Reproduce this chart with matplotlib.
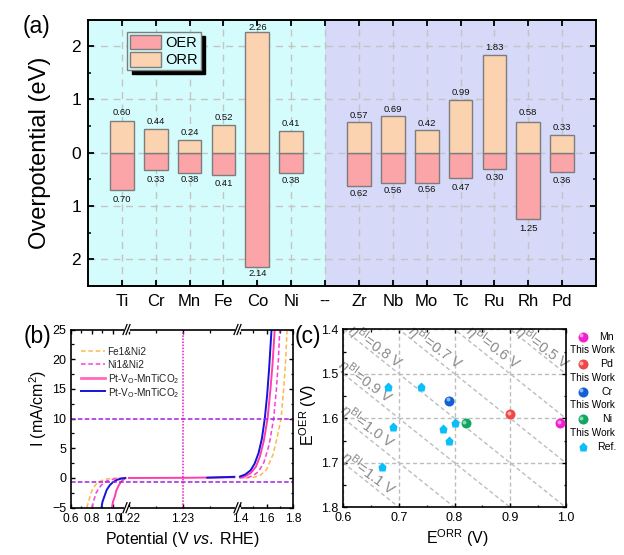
import numpy as np
import matplotlib
matplotlib.use('Agg')
import matplotlib.pyplot as plt
from matplotlib.ticker import FixedLocator, MultipleLocator, FuncFormatter
from matplotlib.transforms import offset_copy
from matplotlib.patches import Patch

plt.rcParams['font.family'] = ['Liberation Sans', 'DejaVu Sans']
plt.rcParams['mathtext.fontset'] = 'custom'
plt.rcParams['mathtext.rm'] = 'Liberation Sans'
plt.rcParams['mathtext.it'] = 'Liberation Sans:italic'
plt.rcParams['mathtext.bf'] = 'Liberation Sans:bold'

# ---- data ----
metals = ['Ti', 'Cr', 'Mn', 'Fe', 'Co', 'Ni', '--', 'Zr', 'Nb', 'Mo', 'Tc', 'Ru', 'Rh', 'Pd']
orr_eta = [0.60, 0.44, 0.24, 0.52, 2.26, 0.41, None, 0.57, 0.69, 0.42, 0.99, 1.83, 0.58, 0.33]
oer_eta = [0.70, 0.33, 0.38, 0.41, 2.14, 0.38, None, 0.62, 0.56, 0.56, 0.47, 0.30, 1.25, 0.36]

fe_orr_v = [0.75, 0.77, 0.79, 0.81, 0.84, 0.88, 0.93, 1.00, 1.10]
fe_orr_i = [-5, -3.8, -2.6, -1.7, -1.0, -0.5, -0.2, -0.05, 0]
ni_orr_v = [0.80, 0.82, 0.84, 0.87, 0.90, 0.94, 1.00, 1.05, 1.12]
ni_orr_i = [-5, -3.6, -2.5, -1.6, -1.0, -0.5, -0.2, -0.05, 0]
pk_orr_v = [0.99, 1.00, 1.02, 1.03, 1.05, 1.07, 1.09, 1.11, 1.12]
pk_orr_i = [-5, -4, -3, -2.2, -1.4, -0.8, -0.4, -0.15, 0]
bl_orr_v = [0.89, 0.90, 0.92, 0.94, 0.97, 1.00, 1.04, 1.08, 1.115]
bl_orr_i = [-5, -4, -3, -2, -1.2, -0.7, -0.3, -0.1, 0]

pk_mid_v = [1.22, 1.23, 1.2395]
pk_mid_i = [0, 0.03, 0.12]
bl_mid_v = [1.2345, 1.2395]
bl_mid_i = [0.05, 0.2]

bl_oer_v = [1.40, 1.44, 1.48, 1.51, 1.54, 1.565, 1.587, 1.605, 1.62, 1.638]
bl_oer_i = [0.25, 0.6, 1.3, 2.4, 4.2, 6.6, 10, 14, 18.5, 25]
pk_oer_v = [1.40, 1.44, 1.48, 1.52, 1.55, 1.58, 1.608, 1.63, 1.645, 1.662]
pk_oer_i = [0.1, 0.3, 0.8, 1.9, 3.6, 6.3, 10, 15, 19, 25]
ni_oer_v = [1.40, 1.46, 1.50, 1.54, 1.58, 1.62, 1.654, 1.675, 1.69, 1.70]
ni_oer_i = [0.02, 0.1, 0.4, 1.1, 2.6, 5.6, 10, 15, 20, 25]
fe_oer_v = [1.44, 1.50, 1.55, 1.60, 1.65, 1.68, 1.71, 1.73, 1.745, 1.755]
fe_oer_i = [0, 0.1, 0.4, 1.4, 4.0, 6.8, 10, 15, 20, 25]

x_major = [0.6, 0.8, 1.0, 1.22, 1.23, 1.4, 1.6, 1.8]
x_major_labels = ['0.6', '0.8', '1.0', '1.22', '1.23', '1.4', '1.6', '1.8']
x_minor = [0.7, 0.9, 1.225, 1.235, 1.5, 1.7]

this_work = {'Mn': (0.99, 1.61, '#F020D0'), 'Pd': (0.90, 1.59, '#F04848'),
             'Cr': (0.79, 1.56, '#1060D8'), 'Ni': (0.82, 1.61, '#10A860')}
ref_orr = [0.68, 0.74, 0.69, 0.78, 0.80, 0.79, 0.67]
ref_oer = [1.53, 1.53, 1.62, 1.625, 1.61, 1.65, 1.71]
eta_lines = [0.5, 0.6, 0.7, 0.8, 0.9, 1.0, 1.1]
eta_label_xy = {0.5: (0.957, 1.442), 0.6: (0.869, 1.442), 0.7: (0.765, 1.442),
                0.8: (0.657, 1.44), 0.9: (0.639, 1.518), 1.0: (0.642, 1.619),
                1.1: (0.645, 1.725)}

# label gaps (px) of panel (a)
up_gap = [8, 7.3, 7, 7.3, 5, 7, 6.5, 6.5, 6.5, 7.7, 7.3, 9, 7.3]
dn_gap = [9, 9.3, 6.7, 8.7, 6.3, 7.7, 8, 7.7, 7, 9.3, 8.3, 9, 8.3]

# ---- layout ----
W, H = 624, 555
fig = plt.figure(figsize=(W / 100, H / 100), dpi=100)

def px_axes(l, t, r, b):
    return fig.add_axes([l / W, 1 - b / H, (r - l) / W, (b - t) / H])

def fx(px): return px / W
def fy(py): return 1 - py / H

# ---- panel (a) ----
ax = px_axes(88, 19.5, 596, 286)
xs = np.arange(len(metals))
ax.axvspan(-1, 6, color='#D5FCFC', lw=0, zorder=0)
ax.axvspan(6, 14, color='#D6D9F8', lw=0, zorder=0)
ax.set_xlim(-1, 14)
ax.set_ylim(-2.5, 2.5)
ax.grid(True, which='major', ls=(0, (5, 4)), color='#C4C4C4', lw=1.0, zorder=1)
ax.set_axisbelow(True)
idx = [i for i, v in enumerate(orr_eta) if v is not None]
orr = [orr_eta[i] for i in idx]
oer = [oer_eta[i] for i in idx]
ax.bar(idx, [-v for v in oer], width=0.7, color='#FBA5A9', edgecolor='#7D7D7D', lw=1.0, zorder=2)
ax.bar(idx, orr, width=0.7, color='#FBD3B1', edgecolor='#7D7D7D', lw=1.0, zorder=2)
for i, u, d, gu, gd in zip(idx, orr, oer, up_gap, dn_gap):
    ax.annotate(f'{u:.2f}', (i, u), xytext=(0, gu * 0.72), textcoords='offset points', ha='center', va='center',
                fontsize=6.8, color='#111111', zorder=4)
    ax.annotate(f'{d:.2f}', (i, -d), xytext=(0, -gd * 0.72), textcoords='offset points', ha='center', va='center',
                fontsize=6.8, color='#111111', zorder=4)
ax.set_xticks(xs)
ax.set_xticklabels(metals, fontsize=12)
ax.yaxis.set_major_locator(MultipleLocator(1))
ax.yaxis.set_minor_locator(MultipleLocator(0.5))
ax.yaxis.set_major_formatter(FuncFormatter(lambda v, p: f'{abs(v):.0f}'))
ax.tick_params(axis='both', which='major', direction='in', top=True, right=True, length=4.5, width=1.3)
ax.tick_params(axis='x', pad=5.5)
ax.tick_params(axis='y', labelsize=12.5, pad=5)
ax.tick_params(axis='y', which='minor', direction='in', right=True, length=2.5, width=1.1)
for s in ax.spines.values():
    s.set_linewidth(1.4)
ax.set_ylabel('Overpotential (eV)', fontsize=17)
ax.yaxis.set_label_coords(fx(51), fy(153), transform=fig.transFigure)
leg = ax.legend([Patch(fc='#FBA5A9', ec='#7D7D7D'), Patch(fc='#FBD3B1', ec='#7D7D7D')], ['OER', 'ORR'],
                loc='upper left', bbox_to_anchor=((127.5 - 88) / 508, (286 - 32) / 266.5), fontsize=10.5,
                fancybox=False, edgecolor='#7D7D7D', facecolor='#D5FCFC', framealpha=1,
                shadow={'color': 'black', 'alpha': 1, 'ox': 3, 'oy': -3},
                handlelength=2.1, handleheight=1.15, handletextpad=0.3, labelspacing=0.14,
                borderpad=0.2, borderaxespad=0)
leg.get_frame().set_linewidth(1.0)
fig.text(fx(36), fy(27), '(a)', fontsize=16.5, ha='center', va='center')

# ---- panel (b) ----
bx = px_axes(71, 329.5, 293, 507.7)
knots_v = [0.6, 1.124, 1.22, 1.24, 1.4, 1.8]
knots_p = [71, 126, 129, 237, 240, 293]
bx.set_xscale('function', functions=(lambda v: np.interp(v, knots_v, knots_p),
                                     lambda p: np.interp(p, knots_p, knots_v)))
bx.set_xlim(0.6, 1.8)
bx.set_ylim(-5, 25)
c_fe, c_ni, c_pk, c_bl = '#FDB84E', '#FB3FD8', '#FF3DB0', '#1414D8'
dash = (0, (3, 1.8))
bx.plot(fe_orr_v, fe_orr_i, color=c_fe, ls=dash, lw=1.1)
bx.plot(ni_orr_v, ni_orr_i, color=c_ni, ls=dash, lw=1.1)
bx.plot(pk_orr_v, pk_orr_i, color=c_pk, lw=1.4)
bx.plot(bl_orr_v, bl_orr_i, color=c_bl, lw=1.4)
bx.plot(pk_mid_v, pk_mid_i, color=c_pk, lw=1.4)
bx.plot(bl_mid_v, bl_mid_i, color=c_bl, lw=1.4)
bx.plot(fe_oer_v, fe_oer_i, color=c_fe, ls=dash, lw=1.1)
bx.plot(ni_oer_v, ni_oer_i, color=c_ni, ls=dash, lw=1.1)
bx.plot(pk_oer_v, pk_oer_i, color=c_pk, lw=1.4)
bx.plot(bl_oer_v, bl_oer_i, color=c_bl, lw=1.4)
bx.axhline(10, color='#A020E0', ls=(0, (3, 1.5)), lw=1.1)
bx.axhline(-0.7, color='#A020E0', ls=(0, (3, 1.5)), lw=1.1)
bx.axvline(1.23, color='#F010C8', ls=(0, (1, 1)), lw=1.1)
bx.xaxis.set_major_locator(FixedLocator(x_major))
bx.xaxis.set_major_formatter(FuncFormatter(lambda v, p: x_major_labels[p] if p is not None and p < len(x_major_labels) else ''))
bx.xaxis.set_minor_locator(FixedLocator(x_minor))
bx.xaxis.set_minor_formatter(FuncFormatter(lambda v, p: ''))
bx.yaxis.set_major_locator(MultipleLocator(5))
bx.yaxis.set_minor_locator(MultipleLocator(2.5))
bx.tick_params(which='major', direction='in', top=True, right=True, length=3, width=1.0, labelsize=9)
bx.tick_params(which='minor', direction='in', top=True, right=True, length=1.8, width=0.9)
bx.tick_params(axis='x', which='major', labelsize=8.6, pad=4)
for s in bx.spines.values():
    s.set_linewidth(1.2)
# axis-break marks
for pb in (126.5, 237.5):
    for yb in (329.5, 507.7):
        fig.add_artist(plt.Line2D([fx(pb - 1.5), fx(pb + 1.5)], [fy(yb), fy(yb)], color='white', lw=2))
        for off in (-1.5, 1.5):
            fig.add_artist(plt.Line2D([fx(pb + off - 2), fx(pb + off + 2)], [fy(yb + 5), fy(yb - 5)],
                                      color='black', lw=0.9))
bx.set_xlabel(r'Potential (V $\mathit{vs.}$ RHE)', fontsize=11.5)
bx.xaxis.set_label_coords(fx(182.7), fy(530), transform=fig.transFigure)
bx.set_ylabel('I (mA/cm$^{2}$)', fontsize=11.5)
bx.yaxis.set_label_coords(fx(49), fy(408), transform=fig.transFigure)
# legend rows of (b)
leg_rows = [('Fe1&Ni2', '#FDB84E', dash, 1.1), ('Ni1&Ni2', '#FB3FD8', dash, 1.1),
            (r'Pt-V$_{\mathrm{O}}$-MnTiCO$_{2}$', '#FF69C0', '-', 2.0),
            (r'Pt-V$_{\mathrm{O}}$-MnTiCO$_{2}$', '#1414D8', '-', 1.4)]
for row_y, (lab, col, lst, lw_) in zip((350.7, 364, 377.5, 391), leg_rows):
    fig.add_artist(plt.Line2D([fx(81), fx(105)], [fy(row_y), fy(row_y)], color=col, ls=lst, lw=lw_))
    fig.text(fx(107.5), fy(row_y), lab, fontsize=7.2, ha='left', va='center_baseline', color='#222222')
fig.text(fx(37.5), fy(336), '(b)', fontsize=16.5, ha='center', va='center')

# ---- panel (c) ----
cx = px_axes(343.3, 329.3, 565.7, 507.3)
cx.set_xlim(0.6, 1.0)
cx.set_ylim(1.8, 1.4)
cx.grid(True, which='major', ls=(0, (3, 2)), color='#BDBDBD', lw=1.0, zorder=1)
cx.set_axisbelow(True)
for e in eta_lines:
    xv = np.array([0.6, 1.0])
    cx.plot(xv, xv + e, color='#BDBDBD', ls=(0, (3, 2)), lw=1.0, zorder=1)
    tx, ty = eta_label_xy[e]
    cx.text(tx, ty, rf'$\eta^{{\mathrm{{BI}}}}$={e:.1f} V', rotation=-36, rotation_mode='anchor',
            ha='center', va='center', fontsize=10.5, color='#8A8A8A', zorder=2)
cx.xaxis.set_major_locator(MultipleLocator(0.1))
cx.xaxis.set_minor_locator(MultipleLocator(0.05))
cx.yaxis.set_major_locator(MultipleLocator(0.1))
cx.yaxis.set_minor_locator(MultipleLocator(0.05))
cx.tick_params(which='major', direction='in', top=True, right=True, length=3, width=1.0, labelsize=9)
cx.tick_params(which='minor', direction='in', top=True, right=True, length=1.8, width=0.9)
for s in cx.spines.values():
    s.set_linewidth(1.2)

def sphere(axis, x, y, color, trans=None, clip=True):
    t = trans if trans is not None else axis.transData
    axis.plot([x], [y], 'o', ms=7.2, color=color, mec='none', transform=t, zorder=5, clip_on=clip)
    hl = offset_copy(t, fig=fig, x=-0.9, y=0.9, units='points')
    axis.plot([x], [y], 'o', ms=2.8, color='white', alpha=0.55, mec='none', transform=hl, zorder=6, clip_on=clip)

for name, (ex, ey, col) in this_work.items():
    sphere(cx, ex, ey, col, clip=False)
cx.plot(ref_orr, ref_oer, 'p', ms=6.5, color='#08BFFA', mec='none', zorder=5)
cx.set_xlabel('E$^{\\mathrm{ORR}}$ (V)', fontsize=11.5)
cx.xaxis.set_label_coords(fx(457.7), fy(527), transform=fig.transFigure)
cx.set_ylabel('E$^{\\mathrm{OER}}$ (V)', fontsize=11.5)
cx.yaxis.set_label_coords(fx(319), fy(415), transform=fig.transFigure)
fig.text(fx(308), fy(336), '(c)', fontsize=16.5, ha='center', va='center')

# legend of (c)
row0, step = 336.7, 13.75
for k, (name, (ex, ey, col)) in enumerate(this_work.items()):
    yr = row0 + 2 * k * step
    sphere(cx, fx(582.7), fy(yr), col, trans=fig.transFigure, clip=False)
    fig.text(fx(606.7), fy(yr), name, fontsize=7.6, ha='center', va='center')
    fig.text(fx(592.7), fy(yr + step), 'This Work', fontsize=7.2, ha='center', va='center')
yr = row0 + 8 * step
cx.plot([fx(582.7)], [fy(yr)], 'p', ms=6.5, color='#08BFFA', mec='none', transform=fig.transFigure, clip_on=False)
fig.text(fx(606.7), fy(yr), 'Ref.', fontsize=7.6, ha='center', va='center')

fig.savefig('out.png', dpi=100)
